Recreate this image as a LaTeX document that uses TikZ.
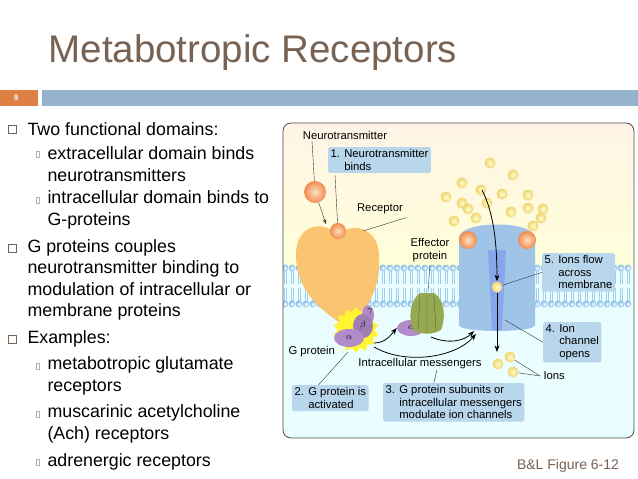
\documentclass[tikz,border=0pt]{standalone}
\usepackage{fontspec}
\setmainfont{Liberation Sans}
\usetikzlibrary{arrows.meta,shapes.geometric}
\definecolor{titlebrown}{RGB}{120,98,84}
\definecolor{barblue}{RGB}{150,178,204}
\definecolor{numorange}{RGB}{222,128,70}
\definecolor{boxblue}{RGB}{184,214,236}
\definecolor{lipid}{RGB}{125,185,230}
\definecolor{recep}{RGB}{251,196,112}
\definecolor{chan}{RGB}{160,195,232}
\definecolor{gprot}{RGB}{178,140,200}
\definecolor{effec}{RGB}{150,168,80}
\definecolor{ionyel}{RGB}{240,210,110}
\definecolor{ntorange}{RGB}{240,140,80}
\tikzset{
  bullet/.style={draw=titlebrown,minimum size=8pt,inner sep=0pt},
  sub/.style={draw=gray!60,minimum width=3pt,minimum height=6pt,inner sep=0pt},
  txt/.style={anchor=west,font=\fontsize{17.8}{21.5}\selectfont,align=left},
  stepbox/.style={fill=boxblue,rounded corners=2pt,align=left,font=\fontsize{11.3}{12.5}\selectfont,inner sep=2.5pt},
  lab/.style={font=\fontsize{11.3}{12.5}\selectfont,align=center},
  ion/.style={circle,inner sep=0pt,minimum size=11pt,inner color=yellow!20,outer color=ionyel,draw=none},
  orb/.style={circle,inner sep=0pt,inner color=orange!25,outer color=ntorange},
  lead/.style={draw=black!80,thin},
}
\begin{document}
\begin{tikzpicture}[x=1pt,y=-1pt,>=Stealth]
\useasboundingbox (0,0) rectangle (638,479);
\fill[white] (0,0) rectangle (638,479);
% title bar
\node[anchor=west,text=titlebrown,font=\fontsize{38.5}{40}\selectfont] (title) at (45,53) {Metabotropic Receptors};
\fill[numorange] (0,90) rectangle (38,106);
\node[text=white,font=\bfseries\fontsize{8}{9}\selectfont] (num) at (16,98) {9};
\fill[barblue] (42,90) rectangle (638,106);
% bullets
\foreach \y in {129,248,339}
  \node[bullet] at (12,\y) {};
\foreach \y in {154,200,366,414,462}
  \node[sub] at (38,\y) {};
\node[txt] (b1) at (24,129) {Two functional domains:};
\node[txt] (b1a) at (44,164) {extracellular domain binds\\neurotransmitters};
\node[txt] (b1b) at (44,210) {intracellular domain binds to\\G-proteins};
\node[txt] (b2) at (24,280) {G proteins couples\\neurotransmitter binding to\\modulation of intracellular or\\membrane proteins};
\node[txt] (b3) at (24,339) {Examples:};
\node[txt] (b3a) at (44,376) {metabotropic glutamate\\receptors};
\node[txt] (b3b) at (44,424) {muscarinic acetylcholine\\(Ach) receptors};
\node[txt] (b3c) at (44,462) {adrenergic receptors};
\node[text=titlebrown,font=\fontsize{14}{16}\selectfont] (cap) at (568,466) {B\&L Figure 6-12};
% figure panel
\begin{scope}
\clip[rounded corners=8pt] (283,123) rectangle (634,438);
\shade[top color=yellow!12!orange!10,bottom color=yellow!15] (283,123) rectangle (634,268);
\fill[blue!6!cyan!8] (283,268) rectangle (634,438);
\foreach \x in {285,292,...,634}{
  \draw[lipid!70,thin] (\x-1,270) -- (\x-1,284) (\x+1,270) -- (\x+1,284)
                    (\x-1,288) -- (\x-1,302) (\x+1,288) -- (\x+1,302);
  \shade[inner color=white,outer color=lipid] (\x,268) circle (3.4);
  \shade[inner color=white,outer color=lipid] (\x,304) circle (3.4);
}
\end{scope}
\draw[black!70,rounded corners=8pt,thick] (283,123) rectangle (634,438);
% ions above channel
\foreach \x/\y in {490/163,513/175,462/183,481/190,462/203,502/194,528/195,446/197,468/209,476/218,487/203,511/212,528/208,541/218,543/209,454/221,533/226}
  \node[ion] at (\x,\y) {};
% receptor
\fill[recep] (338,236) .. controls (326,220) and (296,222) .. (296,255)
  .. controls (296,295) and (328,315) .. (348,328)
  .. controls (372,306) and (381,282) .. (379,255)
  .. controls (378,225) and (348,222) .. (338,236) -- cycle;
\node[orb,minimum size=16pt] (site) at (338,231) {};
% G protein
\node[star,star points=14,star point ratio=1.25,fill=yellow!80,minimum size=46pt,inner sep=0pt] (glow) at (356,330) {};
\node[ellipse,fill=gprot,minimum width=12pt,minimum height=20pt] (gam) at (368,315) {};
\node[ellipse,fill=gprot!90!black,minimum width=20pt,minimum height=24pt] (bet) at (363,326) {};
\node[ellipse,fill=gprot,minimum width=30pt,minimum height=18pt,font=\small] (alp) at (349,338) {$\alpha$};
\node[font=\small] at (370,311) {$\gamma$};
\node[font=\small] at (363,325) {$\beta$};
\node[ellipse,fill=gprot,minimum width=28pt,minimum height=16pt,font=\small] (alp2) at (411,328) {$\alpha$};
% effector
\fill[effec] (413,330) .. controls (408,318) and (410,300) .. (420,293) -- (434,293)
  .. controls (445,300) and (446,318) .. (441,330) .. controls (432,335) and (422,335) .. (413,330) -- cycle;
\draw[effec!60!black] (420,296) -- (418,330) (427,295) -- (427,333) (434,296) -- (436,330);
% ion channel
\fill[chan] (459,238) .. controls (459,220) and (535,220) .. (535,238) -- (535,325)
  .. controls (535,333) and (459,333) .. (459,325) -- cycle;
\fill[chan!85!blue] (488,250) -- (506,250) -- (502,330) -- (492,330) -- cycle;
\node[orb,minimum size=18pt] (cap1) at (468,240) {};
\node[orb,minimum size=18pt] (cap2) at (527,240) {};
\node[ion] (ionm) at (497,287) {};
\node[ion] (io1) at (498,364) {};
\node[ion] (io2) at (510,357) {};
\node[ion] (io3) at (513,372) {};
% labels and steps
\node[lab] (ntl) at (345,135) {Neurotransmitter};
\node[orb,minimum size=22pt] (nt) at (315,192) {};
\coordinate (ntend) at (326,224);
\node[stepbox,anchor=north west] (s1) at (328,147) {1. Neurotransmitter\\\phantom{1. }binds};
\node[lab] (recl) at (380,209) {Receptor};
\node[lab] (effl) at (430,250) {Effector\\protein};
\node[lab,anchor=west] (gpl) at (285,352) {G protein};
\node[lab] (icm) at (420,364) {Intracellular messengers};
\node[lab,anchor=west] (ionl) at (540,376) {Ions};
\node[stepbox,anchor=north west] (s2) at (292,385) {2. G protein is\\\phantom{2. }activated};
\node[stepbox,anchor=north west] (s3) at (383,383) {3. G protein subunits or\\\phantom{3. }intracellular messengers\\\phantom{3. }modulate ion channels};
\node[stepbox,anchor=north west] (s4) at (543,322) {4. Ion\\\phantom{4. }channel\\\phantom{4. }opens};
\node[stepbox,anchor=north west] (s5) at (542,253) {5. Ions flow\\\phantom{5. }across\\\phantom{5. }membrane};
% leaders
\draw[lead] (312,141) -- (nt);
\draw[lead,->] (nt) -- (ntend);
\draw[lead] (335,175) -- (site);
\draw[lead] (recl.south east) -- (363,231);
\draw[lead] (effl.south) -- (428,292);
\draw[lead] (s2.north) ++(-12,0) -- (348,352);
\draw[lead] (s3.north) ++(-20,0) -- (437,370);
\draw[lead] (s5.west) -- (ionm);
\draw[lead] (s4.west) -- (505,320);
\draw[lead] (ionl.west) -- (io2);
\draw[lead] (ionl.west) -- (io3);
% arrows
\draw[->,thick] (482,190) .. controls (495,215) and (497,250) .. (ionm);
\draw[->,thick] (ionm) -- (497,352);
\draw[->,thick] (374,343) .. controls (385,343) and (390,336) .. (alp2.west);
\draw[->,thick] (431,337) .. controls (450,345) and (465,340) .. (474,331);
\draw[->,thick] (374,347) .. controls (405,365) and (455,358) .. (476,334);
\end{tikzpicture}
\end{document}
